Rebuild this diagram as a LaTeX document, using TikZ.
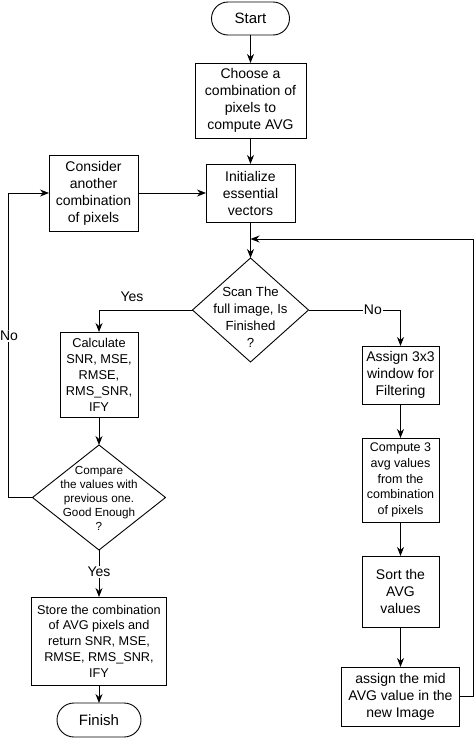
\documentclass[tikz,border=0pt]{standalone}
\usepackage{fontspec}
\setmainfont{Liberation Sans}
\usetikzlibrary{shapes.geometric,shapes.misc,arrows.meta}
\begin{document}
\begin{tikzpicture}[x=1pt,y=-1pt,
 every node/.style={inner sep=0pt, outer sep=0pt},
 box/.style={draw, line width=0.9pt, align=center, font=\fontsize{14}{17}\selectfont},
 term/.style={draw, rounded rectangle, line width=0.9pt, font=\fontsize{15}{18}\selectfont},
 dia/.style={draw, diamond, line width=0.9pt},
 dtext/.style={align=center},
 arr/.style={-{Stealth[length=9pt,width=7pt]}, line width=0.9pt},
 lbl/.style={fill=white, inner sep=1pt, font=\fontsize{14}{17}\selectfont}]
\useasboundingbox (0,0) rectangle (474,739);
\fill[white] (0,0) rectangle (474,739);

\node[term, minimum width=78pt, minimum height=33pt] (start) at (250.5,18.5) {Start};
\node[box, minimum width=111pt, minimum height=75pt] (choose) at (250.5,100.5) {Choose a\\combination of\\pixels to\\compute AVG};
\node[box, minimum width=89pt, minimum height=58pt] (init) at (250.5,193) {Initialize\\essential\\vectors};
\node[box, minimum width=89pt, minimum height=76pt] (consider) at (93.5,193) {Consider\\another\\combination\\of pixels};
\node[dia, minimum width=116pt, minimum height=104pt] (scan) at (250.5,310) {};
\node[dtext, font=\fontsize{13.2}{17}\selectfont] (scant) at (250.5,317) {Scan The\\full image, Is\\Finished\\?};
\node[box, font=\fontsize{12.8}{16}\selectfont, minimum width=78pt, minimum height=85pt] (calc) at (99,374.5) {Calculate\\SNR, MSE,\\RMSE,\\RMS\_SNR,\\IFY};
\node[dia, minimum width=133pt, minimum height=105pt] (compare) at (99,497.5) {};
\node[dtext, font=\fontsize{11.7}{14}\selectfont] (comparet) at (99,498) {Compare\\the values with\\previous one.\\Good Enough\\?};
\node[box, font=\fontsize{12.7}{15.7}\selectfont, minimum width=135pt, minimum height=88pt] (store) at (99,641) {Store the combination\\of AVG pixels and\\return SNR, MSE,\\RMSE, RMS\_SNR,\\IFY};
\node[term, minimum width=84pt, minimum height=34pt] (finish) at (99,720) {Finish};

\node[box, minimum width=77pt, minimum height=58pt] (assign) at (400.5,375) {Assign 3x3\\window for\\Filtering};
\node[box, font=\fontsize{12.5}{15.7}\selectfont, minimum width=77pt, minimum height=84pt] (compute) at (400.5,480) {Compute 3\\avg values\\from the\\combination\\of pixels};
\node[box, minimum width=77pt, minimum height=71pt] (sort) at (400.5,591.5) {Sort the\\AVG\\values};
\node[box, minimum width=118pt, minimum height=59pt] (mid) at (400.5,696.5) {assign the mid\\AVG value in the\\new Image};

\coordinate (lx) at (8,0);
\coordinate (rx) at (473,0);
\coordinate (fb) at (250.5,239);

\draw[arr] (start) -- (choose);
\draw[arr] (choose) -- (init);
\draw[arr] (consider.east) -- (init.west);
\draw[arr] (init.south) -- (scan.north);
\draw[arr] (scan.west) -| (calc.north);
\node[font=\fontsize{14}{17}\selectfont] (yes1) at (132,297) {Yes};
\draw[arr] (scan.east) -| node[lbl, pos=0.35] (no1) {No} (assign.north);
\draw[arr] (calc) -- (compare.north);
\draw[arr] (compare.west) -- (compare.west -| lx) |- (consider.west);
\node[lbl] (no2) at (9,336) {No};
\draw[arr] (compare.south) -- node[lbl, pos=0.47] (yes2) {Yes} (store.north);
\draw[arr] (store) -- (finish);
\draw[arr] (assign) -- (compute);
\draw[arr] (compute) -- (sort);
\draw[arr] (sort) -- (mid);
\draw[arr] (mid.east) -- (mid.east -| rx) |- (fb);
\end{tikzpicture}
\end{document}
